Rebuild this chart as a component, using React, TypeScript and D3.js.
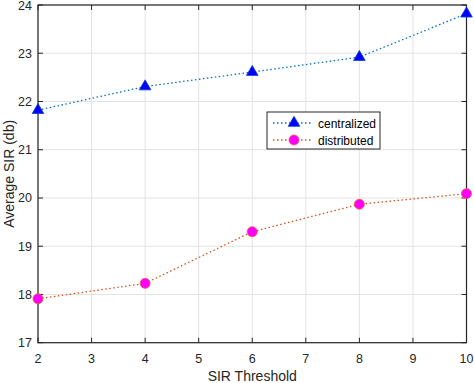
import React from "react";
import * as d3 from "d3";

const thresholds = [2, 4, 6, 8, 10];
const centralized = [21.82, 22.31, 22.61, 22.92, 23.82];
const distributed = [17.91, 18.23, 19.3, 19.87, 20.09];
const xTicks = [2, 3, 4, 5, 6, 7, 8, 9, 10];
const yTicks = [17, 18, 19, 20, 21, 22, 23, 24];
const seriesNames = ["centralized", "distributed"];

const W = 474, H = 383;
const L = 38, R = 466.5, T = 5, B = 342.7;
const FONT = "'Liberation Sans', Arial, sans-serif";
const AX = "#262626";

export default function App() {
  const x = d3.scaleLinear().domain([2, 10]).range([L, R]);
  const y = d3.scaleLinear().domain([17, 24]).range([B, T]);
  const line = d3.line<number>().x((_, i) => x(thresholds[i])).y((d) => y(d));
  const tri = d3.symbol().type(d3.symbolTriangle).size(58)();
  const tk = 5;
  return (
    <svg width={W} height={H} style={{ position: "absolute", left: 0, top: 0, background: "#fff" }}>
      <rect x={0} y={0} width={W} height={H} fill="#fff" />
      {xTicks.map((t) => (
        <line key={"gx" + t} x1={x(t)} x2={x(t)} y1={T} y2={B} stroke="#e3e3e3" strokeWidth={1} />
      ))}
      {yTicks.map((t) => (
        <line key={"gy" + t} x1={L} x2={R} y1={y(t)} y2={y(t)} stroke="#e3e3e3" strokeWidth={1} />
      ))}
      {xTicks.map((t) => (
        <g key={"tx" + t}>
          <line x1={x(t)} x2={x(t)} y1={B} y2={B - tk} stroke={AX} />
          <line x1={x(t)} x2={x(t)} y1={T} y2={T + tk} stroke={AX} />
          <text x={x(t)} y={363} textAnchor="middle" fontFamily={FONT} fontSize={12.5} fill={AX}>{t}</text>
        </g>
      ))}
      {yTicks.map((t) => (
        <g key={"ty" + t}>
          <line x1={L} x2={L + tk} y1={y(t)} y2={y(t)} stroke={AX} />
          <line x1={R} x2={R - tk} y1={y(t)} y2={y(t)} stroke={AX} />
          <text x={32} y={y(t) + 4.5} textAnchor="end" fontFamily={FONT} fontSize={12.5} fill={AX}>{t}</text>
        </g>
      ))}
      <rect x={L} y={T} width={R - L} height={B - T} fill="none" stroke={AX} strokeWidth={1.2} />
      <path d={line(centralized) || ""} fill="none" stroke="#0072BD" strokeWidth={1.3} strokeDasharray="1.5 2.5" />
      <path d={line(distributed) || ""} fill="none" stroke="#D95319" strokeWidth={1.3} strokeDasharray="1.5 2.5" />
      {centralized.map((v, i) => (
        <path key={"c" + i} d={tri || ""} transform={`translate(${x(thresholds[i])},${y(v)})`} fill="#0000ff" stroke="#0044cc" strokeWidth={0.8} />
      ))}
      {distributed.map((v, i) => (
        <circle key={"d" + i} cx={x(thresholds[i])} cy={y(v)} r={5} fill="#ff00ff" stroke="#e8603a" strokeWidth={0.8} />
      ))}
      <rect x={267} y={112} width={113} height={37} fill="#fff" stroke={AX} strokeWidth={1} />
      <line x1={273} x2={313} y1={123} y2={123} stroke="#0072BD" strokeWidth={1.3} strokeDasharray="1.5 2.5" />
      <path d={tri || ""} transform="translate(294,123)" fill="#0000ff" stroke="#0044cc" strokeWidth={0.8} />
      <text x={318} y={127.5} fontFamily={FONT} fontSize={12} fill="#000">{seriesNames[0]}</text>
      <line x1={273} x2={313} y1={140} y2={140} stroke="#D95319" strokeWidth={1.3} strokeDasharray="1.5 2.5" />
      <circle cx={294} cy={140} r={5} fill="#ff00ff" stroke="#e8603a" strokeWidth={0.8} />
      <text x={318} y={144.5} fontFamily={FONT} fontSize={12} fill="#000">{seriesNames[1]}</text>
      <text x={(L + R) / 2} y={381} textAnchor="middle" fontFamily={FONT} fontSize={14} fill={AX}>SIR Threshold</text>
      <text transform={`translate(14,${(T + B) / 2}) rotate(-90)`} textAnchor="middle" fontFamily={FONT} fontSize={14} fill={AX}>Average SIR (db)</text>
    </svg>
  );
}
